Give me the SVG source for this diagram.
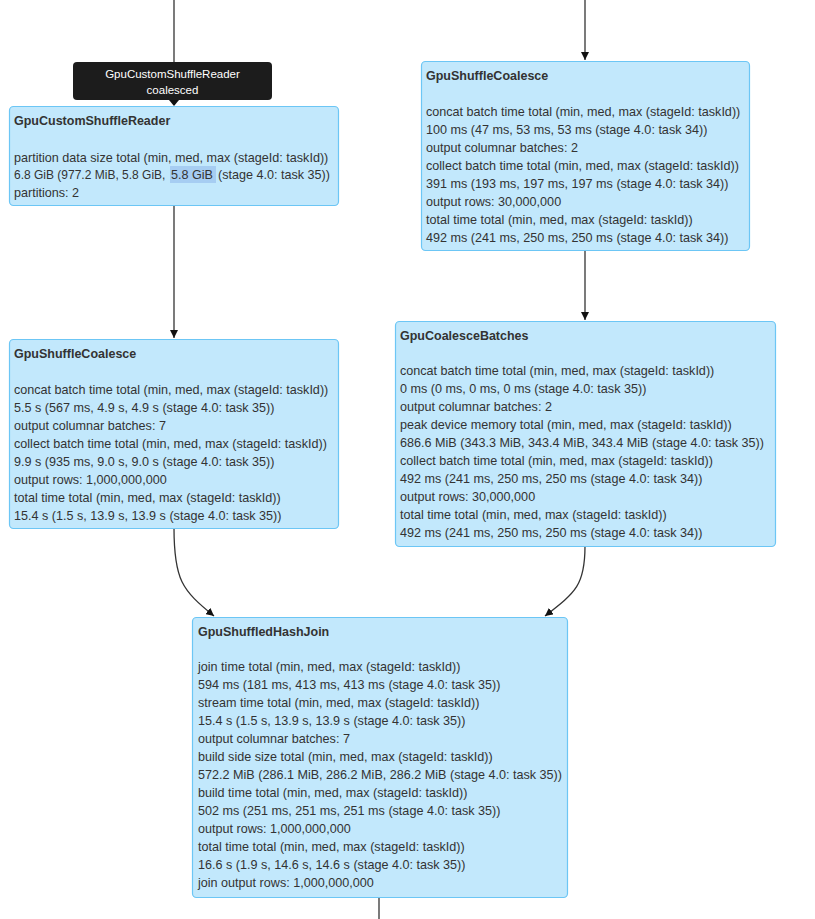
<svg xmlns="http://www.w3.org/2000/svg" width="815" height="919" viewBox="0 0 815 919">
<defs>
<style>
.box{fill:#c2e8fc;stroke:#6cc6f5;stroke-width:1.2}
.t{font-family:"Liberation Sans",Arial,sans-serif;font-size:12.6px;fill:#333}
.h{font-weight:bold;font-size:12.5px}
.e{fill:none;stroke:#333;stroke-width:1.3}
.tip{fill:#1c1c1c}
.tt{font-family:"Liberation Sans",Arial,sans-serif;font-size:11.5px;fill:#fff;text-anchor:middle}
</style>
<marker id="arr" viewBox="0 0 10 10" refX="10" refY="5" markerWidth="8" markerHeight="8" markerUnits="userSpaceOnUse" orient="auto">
<path d="M0,0 L10,5 L0,10 z" fill="#111"/>
</marker>
</defs>
<rect width="815" height="919" fill="#fff"/>
<g id="edges">
<path class="e" d="M174,0 L174,105" marker-end="url(#arr)"/>
<path class="e" d="M585,0 L585,60" marker-end="url(#arr)"/>
<path class="e" d="M174,206 L174,338" marker-end="url(#arr)"/>
<path class="e" d="M585,250 L585,320" marker-end="url(#arr)"/>
<path class="e" d="M174,528 C174,580 182,590 214,616" marker-end="url(#arr)"/>
<path class="e" d="M585,546 C585,585 576,592 545,616" marker-end="url(#arr)"/>
<path class="e" d="M379,897 L379,919"/>
</g>
<g id="node1">
<rect class="box" x="9.5" y="106.5" width="329" height="99" rx="4"/>
<rect x="170" y="166" width="46" height="17" fill="#a6cdf2"/>
<text class="t h" x="14" y="124.5">GpuCustomShuffleReader</text>
<text class="t" x="14" y="161.5">partition data size total (min, med, max (stageId: taskId))</text>
<text class="t" y="179"><tspan x="14" font-size="12px">6.8 GiB (977.2 MiB, 5.8 GiB,</tspan><tspan x="171">5.8 GiB</tspan><tspan x="218">(stage 4.0: task 35))</tspan></text>
<text class="t" x="14" y="196.5">partitions: 2</text>
</g>
<g id="tooltip">
<rect class="tip" x="73" y="62" width="199" height="38" rx="4"/>
<path d="M169,100 L179,100 L174,106 z" fill="#111"/>
<text class="tt" x="172.5" y="77.5">GpuCustomShuffleReader</text>
<text class="tt" x="172.5" y="94">coalesced</text>
</g>
<g id="node2">
<rect class="box" x="421.5" y="61.5" width="328" height="189" rx="4"/>
<text class="t h" x="426" y="79.5">GpuShuffleCoalesce</text>
<text class="t" x="426" y="115.5">concat batch time total (min, med, max (stageId: taskId))</text>
<text class="t" x="426" y="133.5">100 ms (47 ms, 53 ms, 53 ms (stage 4.0: task 34))</text>
<text class="t" x="426" y="151.5">output columnar batches: 2</text>
<text class="t" x="426" y="169.5">collect batch time total (min, med, max (stageId: taskId))</text>
<text class="t" x="426" y="187.5">391 ms (193 ms, 197 ms, 197 ms (stage 4.0: task 34))</text>
<text class="t" x="426" y="205.5">output rows: 30,000,000</text>
<text class="t" x="426" y="223.5">total time total (min, med, max (stageId: taskId))</text>
<text class="t" x="426" y="241.5">492 ms (241 ms, 250 ms, 250 ms (stage 4.0: task 34))</text>
</g>
<g id="node3">
<rect class="box" x="9.5" y="339.5" width="329" height="189" rx="4"/>
<text class="t h" x="14" y="357.5">GpuShuffleCoalesce</text>
<text class="t" x="14" y="393.5">concat batch time total (min, med, max (stageId: taskId))</text>
<text class="t" x="14" y="411.5">5.5 s (567 ms, 4.9 s, 4.9 s (stage 4.0: task 35))</text>
<text class="t" x="14" y="429.5">output columnar batches: 7</text>
<text class="t" x="14" y="447.5">collect batch time total (min, med, max (stageId: taskId))</text>
<text class="t" x="14" y="465.5">9.9 s (935 ms, 9.0 s, 9.0 s (stage 4.0: task 35))</text>
<text class="t" x="14" y="483.5">output rows: 1,000,000,000</text>
<text class="t" x="14" y="501.5">total time total (min, med, max (stageId: taskId))</text>
<text class="t" x="14" y="519.5">15.4 s (1.5 s, 13.9 s, 13.9 s (stage 4.0: task 35))</text>
</g>
<g id="node4">
<rect class="box" x="395.5" y="321.5" width="380" height="225" rx="4"/>
<text class="t h" x="400" y="339.5">GpuCoalesceBatches</text>
<text class="t" x="400" y="374.5">concat batch time total (min, med, max (stageId: taskId))</text>
<text class="t" x="400" y="392.5">0 ms (0 ms, 0 ms, 0 ms (stage 4.0: task 35))</text>
<text class="t" x="400" y="410.5">output columnar batches: 2</text>
<text class="t" x="400" y="428.5">peak device memory total (min, med, max (stageId: taskId))</text>
<text class="t" x="400" y="446.5">686.6 MiB (343.3 MiB, 343.4 MiB, 343.4 MiB (stage 4.0: task 35))</text>
<text class="t" x="400" y="464.5">collect batch time total (min, med, max (stageId: taskId))</text>
<text class="t" x="400" y="482.5">492 ms (241 ms, 250 ms, 250 ms (stage 4.0: task 34))</text>
<text class="t" x="400" y="500.5">output rows: 30,000,000</text>
<text class="t" x="400" y="518.5">total time total (min, med, max (stageId: taskId))</text>
<text class="t" x="400" y="536.5">492 ms (241 ms, 250 ms, 250 ms (stage 4.0: task 34))</text>
</g>
<g id="node5">
<rect class="box" x="192.5" y="617.5" width="375" height="280" rx="4"/>
<text class="t h" x="198" y="635.5">GpuShuffledHashJoin</text>
<text class="t" x="198" y="670.5">join time total (min, med, max (stageId: taskId))</text>
<text class="t" x="198" y="688.5">594 ms (181 ms, 413 ms, 413 ms (stage 4.0: task 35))</text>
<text class="t" x="198" y="706.5">stream time total (min, med, max (stageId: taskId))</text>
<text class="t" x="198" y="724.5">15.4 s (1.5 s, 13.9 s, 13.9 s (stage 4.0: task 35))</text>
<text class="t" x="198" y="742.5">output columnar batches: 7</text>
<text class="t" x="198" y="760.5">build side size total (min, med, max (stageId: taskId))</text>
<text class="t" x="198" y="778.5">572.2 MiB (286.1 MiB, 286.2 MiB, 286.2 MiB (stage 4.0: task 35))</text>
<text class="t" x="198" y="796.5">build time total (min, med, max (stageId: taskId))</text>
<text class="t" x="198" y="814.5">502 ms (251 ms, 251 ms, 251 ms (stage 4.0: task 35))</text>
<text class="t" x="198" y="832.5">output rows: 1,000,000,000</text>
<text class="t" x="198" y="850.5">total time total (min, med, max (stageId: taskId))</text>
<text class="t" x="198" y="868.5">16.6 s (1.9 s, 14.6 s, 14.6 s (stage 4.0: task 35))</text>
<text class="t" x="198" y="886.5">join output rows: 1,000,000,000</text>
</g>
</svg>
